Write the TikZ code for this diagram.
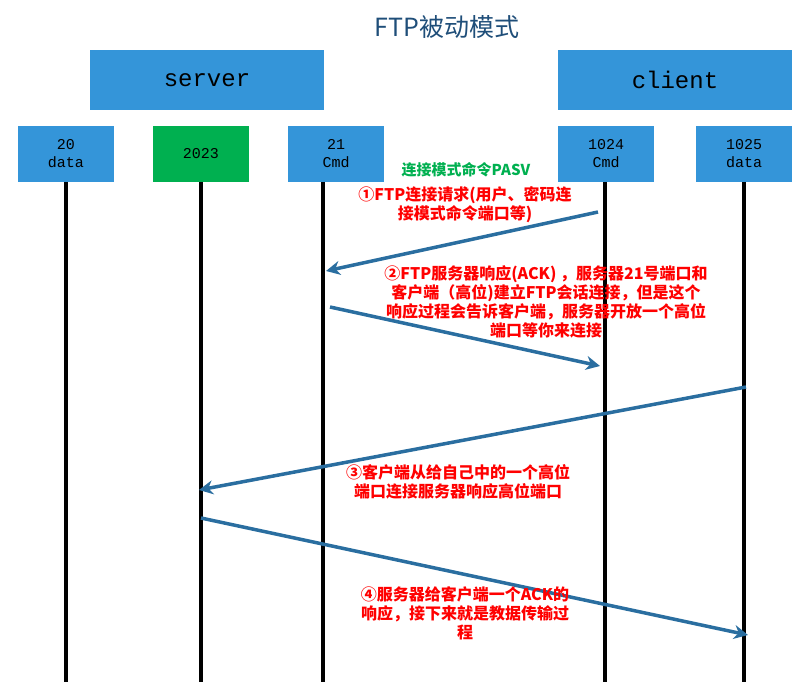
\documentclass[tikz,border=0pt]{standalone}
\usepackage{fontspec}
\setmainfont{Liberation Serif}
\newfontfamily\cjk{Noto Sans CJK SC}
\newfontfamily\mono{Liberation Mono}
\usetikzlibrary{positioning,arrows.meta}
\definecolor{boxblue}{RGB}{52,149,217}
\definecolor{boxgreen}{RGB}{0,176,80}
\definecolor{arrowblue}{RGB}{42,110,160}
\definecolor{titleblue}{RGB}{31,78,121}
\begin{document}
\begin{tikzpicture}[x=1pt,y=-1pt,
    side/.style={fill=boxblue, minimum width=234pt, minimum height=60pt, font=\mono\fontsize{24}{24}\selectfont},
    port/.style={fill=boxblue, minimum width=96pt, minimum height=56pt, align=center, font=\mono\fontsize{15}{18}\selectfont},
    life/.style={line width=4pt},
    msg/.style={-{Stealth[length=14pt,width=14pt]}, arrowblue, line width=3.5pt},
    note/.style={text=red, align=center, font=\cjk\bfseries\fontsize{16}{19}\selectfont}
  ]
  \useasboundingbox (0,0) rectangle (812,682);

  % title and parties
  \node[text=titleblue, font=\cjk\fontsize{25}{25}\selectfont] (title) at (447,27) {FTP被动模式};
  \node[side] (server) at (207,80) {server};
  \node[side] (client) at (675,80) {client};

  % ports
  \node[port] (p20) at (66,154) {20\\data};
  \node[port, fill=boxgreen] (p2023) at (201,154) {2023};
  \node[port] (p21) at (336,154) {21\\Cmd};
  \node[port] (p1024) at (606,154) {1024\\Cmd};
  \node[port] (p1025) at (744,154) {1025\\data};

  % lifelines
  \foreach \p/\x in {p20/66, p2023/201, p21/323, p1024/605, p1025/744}
    \draw[life] (\x,182) -- (\x,682);

  % messages
  \coordinate (a1) at (598,212); \coordinate (b1) at (326,271);
  \coordinate (a2) at (330,307); \coordinate (b2) at (600,366);
  \coordinate (a3) at (746,387); \coordinate (b3) at (199,490);
  \coordinate (a4) at (201,518); \coordinate (b4) at (748,635);
  \draw[msg] (a1) -- (b1);
  \draw[msg] (a2) -- (b2);
  \draw[msg] (a3) -- (b3);
  \draw[msg] (a4) -- (b4);

  % notes
  \node[text=boxgreen, font=\cjk\bfseries\fontsize{15}{18}\selectfont] (pasv) at (466,170) {连接模式命令PASV};
  \node[note] (n1) at (465,205) {①FTP连接请求(用户、密码连\\接模式命令端口等)};
  \node[note] (n2) at (546,302) {②FTP服务器响应(ACK) ，服务器21号端口和\\客户端（高位)建立FTP会话连接，但是这个\\响应过程会告诉客户端，服务器开放一个高位\\端口等你来连接};
  \node[note] (n3) at (458,482) {③客户端从给自己中的一个高位\\端口连接服务器响应高位端口};
  \node[note] (n4) at (465,613) {④服务器给客户端一个ACK的\\响应，接下来就是教据传输过\\程};
\end{tikzpicture}
\end{document}
